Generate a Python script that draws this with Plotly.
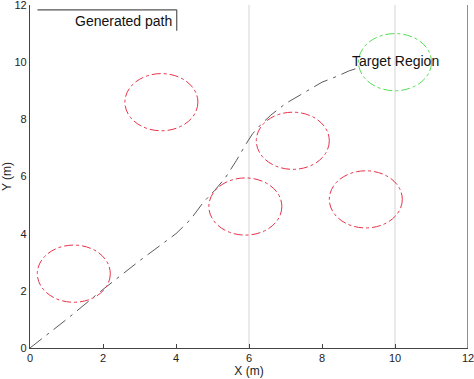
import plotly.graph_objects as go

# Path data
path_x = [0, 1, 2, 3, 4, 4.4, 4.75, 5.05, 5.35, 5.65, 5.9, 6.1, 6.35, 6.6, 7.0, 7.55, 8.0, 8.4, 8.75, 9.0]
path_y = [0, 1, 2.05, 3.05, 4.0, 4.5, 5.1, 5.5, 5.95, 6.55, 7.1, 7.5, 7.85, 8.15, 8.55, 8.95, 9.3, 9.5, 9.7, 9.8]

# Obstacles (red circles)
obs_x = [1.2, 3.6, 7.2, 5.9, 9.2]
obs_y = [2.6, 8.6, 7.25, 4.95, 5.2]
obs_r = [1.0, 1.0, 1.0, 1.0, 1.0]

# Target region (green circle)
target_x = 10.0
target_y = 10.0
target_r = 1.0

grid_x = [6, 10]
ticks = [0, 2, 4, 6, 8, 10, 12]

FONT = "Liberation Sans, Arial, sans-serif"

fig = go.Figure()
fig.add_trace(go.Scatter(x=path_x, y=path_y, mode="lines",
                         line=dict(color="#5a5a5a", width=1, dash="longdashdot"),
                         showlegend=False, hoverinfo="skip", cliponaxis=False))

shapes = []
for gx in grid_x:
    shapes.append(dict(type="line", xref="x", yref="y", x0=gx, x1=gx, y0=0, y1=12,
                       line=dict(color="#d4d4d4", width=1), layer="below"))
for cx, cy, r in zip(obs_x, obs_y, obs_r):
    shapes.append(dict(type="circle", xref="x", yref="y", x0=cx - r, x1=cx + r,
                       y0=cy - r, y1=cy + r,
                       line=dict(color="#e8334a", width=1, dash="dashdot")))
shapes.append(dict(type="circle", xref="x", yref="y", x0=target_x - target_r, x1=target_x + target_r,
                   y0=target_y - target_r, y1=target_y + target_r,
                   line=dict(color="#55dd55", width=1, dash="dashdot")))
# right axis line
shapes.append(dict(type="line", xref="x", yref="y", x0=12, x1=12, y0=0, y1=12,
                   line=dict(color="#444444", width=1.2)))
# legend box lines
shapes.append(dict(type="line", xref="paper", yref="paper", x0=0.017, x1=0.335, y0=0.986, y1=0.986,
                   line=dict(color="#555555", width=1.2)))
shapes.append(dict(type="line", xref="paper", yref="paper", x0=0.335, x1=0.335, y0=0.986, y1=0.925,
                   line=dict(color="#555555", width=1.2)))

annotations = [
    dict(x=0.328, y=0.954, xref="paper", yref="paper", text="Generated path", showarrow=False,
         xanchor="right", yanchor="middle", font=dict(family=FONT, size=14, color="#111111")),
    dict(x=target_x, y=target_y + 0.05, xref="x", yref="y", text="Target Region", showarrow=False,
         xanchor="center", yanchor="middle", font=dict(family=FONT, size=14, color="#111111")),
]

fig.update_layout(
    width=474, height=379,
    margin=dict(l=30, r=6, t=5, b=31),
    paper_bgcolor="white", plot_bgcolor="white",
    shapes=shapes, annotations=annotations,
    showlegend=False,
    font=dict(family=FONT, size=11, color="#222222"),
    xaxis=dict(range=[0, 12], tickvals=ticks, ticktext=[str(t) for t in ticks],
               showgrid=False, zeroline=False, showline=True, linecolor="#444444", linewidth=1.2,
               ticks="inside", ticklen=4, tickcolor="#444444", automargin=False,
               ticklabeloverflow="allow",
               title=dict(text="X (m)", font=dict(size=12), standoff=0),
               tickfont=dict(size=11)),
    yaxis=dict(range=[0, 12], tickvals=ticks, ticktext=[str(t) for t in ticks],
               showgrid=False, zeroline=False, showline=True, linecolor="#444444", linewidth=1.2,
               ticks="", automargin=False, ticklabeloverflow="allow",
               title=dict(text="Y (m)", font=dict(size=12), standoff=2),
               tickfont=dict(size=11)),
)

fig.write_html("out.html", config={"displayModeBar": False},
               post_script="document.body.style.margin='0';document.body.style.padding='0';")
